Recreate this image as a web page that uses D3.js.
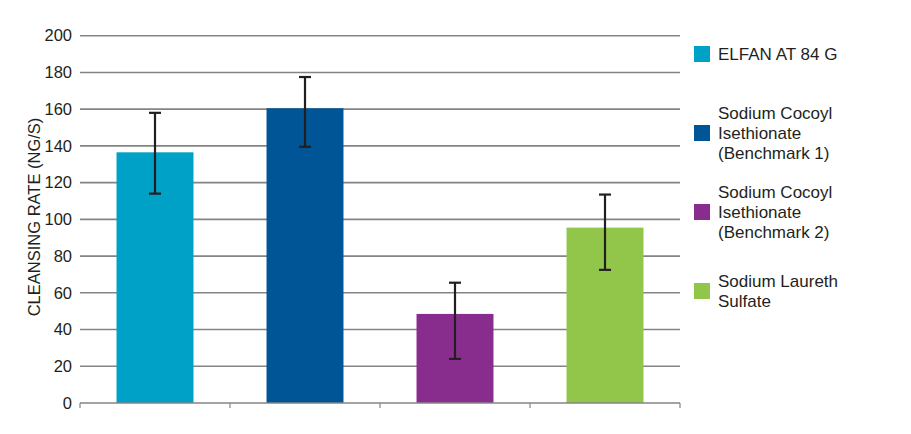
<!DOCTYPE html>
<html>
<head>
<meta charset="utf-8">
<script src="https://cdn.jsdelivr.net/npm/d3@7"></script>
<style>
  body { margin: 0; background: #fff; }
  text { font-family: "Liberation Sans", Arial, Helvetica, sans-serif; fill: #231f20; }
</style>
</head>
<body>
<svg id="chart" width="911" height="434"></svg>
<script>
// Data
var products = ["ELFAN AT 84 G", "Sodium Cocoyl Isethionate (Benchmark 1)",
                "Sodium Cocoyl Isethionate (Benchmark 2)", "Sodium Laureth Sulfate"];
var legendLines = [["ELFAN AT 84 G"],
                   ["Sodium Cocoyl", "Isethionate", "(Benchmark 1)"],
                   ["Sodium Cocoyl", "Isethionate", "(Benchmark 2)"],
                   ["Sodium Laureth", "Sulfate"]];
var rates = [136.5, 160.5, 48.5, 95.5];
var errLow = [114, 139.5, 24, 72.5];
var errHigh = [158, 177.5, 65.5, 113.5];
var colors = ["#00a1c6", "#005596", "#882d8e", "#92c64a"];
var yTicks = [0, 20, 40, 60, 80, 100, 120, 140, 160, 180, 200];

var svg = d3.select("#chart");

// plot area
var x = d3.scaleBand().domain(products).range([80, 680]).paddingInner(0.487).paddingOuter(0.2435);
var y = d3.scaleLinear().domain([0, 200]).range([403, 35.7]);

// gridlines
svg.append("g")
  .selectAll("line")
  .data(yTicks.slice(1))
  .enter()
  .append("line")
  .attr("x1", 80).attr("x2", 680)
  .attr("y1", function(d) { return y(d); })
  .attr("y2", function(d) { return y(d); })
  .attr("stroke", "#848484")
  .attr("stroke-width", 1.6);

// y axis labels
var yAxis = d3.axisLeft(y).tickValues(yTicks).tickSize(0).tickPadding(8);
var gy = svg.append("g").attr("transform", "translate(80,0)").call(yAxis);
gy.select(".domain").remove();
gy.selectAll("text")
  .attr("font-size", 16.5)
  .style("font-family", "'Liberation Sans', Arial, sans-serif")
  .attr("fill", "#231f20");

// bars
svg.append("g")
  .selectAll("rect")
  .data(products)
  .enter()
  .append("rect")
  .attr("x", function(d) { return x(d); })
  .attr("width", x.bandwidth())
  .attr("y", function(d, i) { return y(rates[i]); })
  .attr("height", function(d, i) { return y(0) - y(rates[i]); })
  .attr("fill", function(d, i) { return colors[i]; });

// x axis with ticks at category boundaries
var bounds = [80, 230, 380, 530, 680];
svg.append("line")
  .attr("x1", 80).attr("x2", 680)
  .attr("y1", y(0)).attr("y2", y(0))
  .attr("stroke", "#848484").attr("stroke-width", 1.6);
svg.append("g")
  .selectAll("line")
  .data(bounds)
  .enter()
  .append("line")
  .attr("x1", function(d) { return d; })
  .attr("x2", function(d) { return d; })
  .attr("y1", y(0)).attr("y2", y(0) + 5)
  .attr("stroke", "#848484").attr("stroke-width", 1.2);

// error bars
var eb = svg.append("g").attr("stroke", "#231f20").attr("stroke-width", 2.2);
products.forEach(function(p, i) {
  var cx = x(p) + x.bandwidth() / 2;
  eb.append("line").attr("x1", cx).attr("x2", cx)
    .attr("y1", y(errLow[i])).attr("y2", y(errHigh[i]));
  eb.append("line").attr("x1", cx - 6).attr("x2", cx + 6)
    .attr("y1", y(errLow[i])).attr("y2", y(errLow[i]));
  eb.append("line").attr("x1", cx - 6).attr("x2", cx + 6)
    .attr("y1", y(errHigh[i])).attr("y2", y(errHigh[i]));
});

// y axis title
svg.append("text")
  .attr("transform", "translate(39.5,217) rotate(-90)")
  .attr("text-anchor", "middle")
  .attr("font-size", 16.5)
  .text("CLEANSING RATE (NG/S)");

// legend
var legend = svg.append("g");
legendLines.forEach(function(lines, i) {
  var cy = 54 + i * 79;
  legend.append("rect")
    .attr("x", 694).attr("y", cy - 8)
    .attr("width", 16).attr("height", 16)
    .attr("fill", colors[i]);
  var t = legend.append("text").attr("font-size", 17);
  var start = cy + 6 - (lines.length - 1) * 10;
  lines.forEach(function(l, j) {
    t.append("tspan").attr("x", 718).attr("y", start + j * 20).text(l);
  });
});
</script>
</body>
</html>
